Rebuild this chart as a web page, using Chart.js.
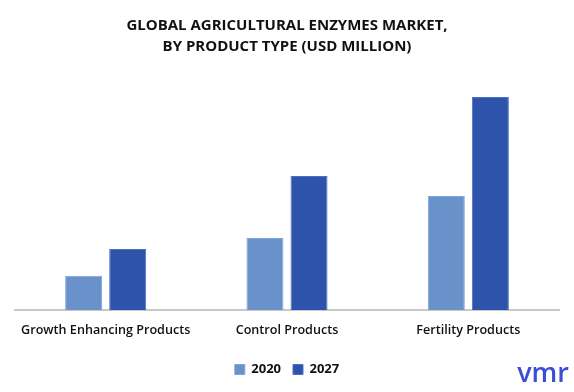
<!DOCTYPE html>
<html lang="en">
<head>
    <meta charset="UTF-8">
    <title>Global Agricultural Enzymes Market, By Product Type</title>
    <script src="https://cdn.jsdelivr.net/npm/chart.js"></script>
    <style>
        html, body {
            margin: 0;
            padding: 0;
            background: #ffffff;
        }
        .chart-box {
            position: relative;
            width: 574px;
            height: 392px;
        }
    </style>
</head>
<body>
    <div class="chart-box">
        <canvas id="marketChart"></canvas>
    </div>
    <script>
        // values (relative bar heights)
        const categories = ['Growth Enhancing Products', 'Control Products', 'Fertility Products'];
        const years = ['2020', '2027'];
        const values2020 = [160, 338, 535];
        const values2027 = [286, 629, 1000];
        const titleLines = ['GLOBAL AGRICULTURAL ENZYMES MARKET,', 'BY PRODUCT TYPE (USD MILLION)'];

        const fontFamily = "'Open Sans', 'Noto Sans', sans-serif";

        // small logo in the lower right corner
        const logoPlugin = {
            id: 'logo',
            afterDraw(chart) {
                const ctx = chart.ctx;
                ctx.save();
                ctx.font = "600 27px " + fontFamily;
                ctx.fillStyle = '#3a4fd6';
                ctx.textAlign = 'right';
                ctx.textBaseline = 'alphabetic';
                ctx.fillText('vmr', 569, 382);
                ctx.restore();
            }
        };

        const ctx = document.getElementById('marketChart').getContext('2d');
        const marketChart = new Chart(ctx, {
            type: 'bar',
            data: {
                labels: categories,
                datasets: [{
                    label: years[0],
                    data: values2020,
                    backgroundColor: '#6892c9',
                    borderColor: '#7ea5dc',
                    borderWidth: 1
                }, {
                    label: years[1],
                    data: values2027,
                    backgroundColor: '#2e53ab',
                    borderColor: '#4a6fc4',
                    borderWidth: 1
                }]
            },
            options: {
                responsive: true,
                maintainAspectRatio: false,
                animation: false,
                categoryPercentage: 0.486,
                barPercentage: 0.84,
                layout: {
                    padding: { left: 15, right: 15, top: 11, bottom: 6 }
                },
                plugins: {
                    title: {
                        display: true,
                        text: titleLines,
                        color: '#111111',
                        font: { family: fontFamily, size: 15, weight: 'bold', lineHeight: 1.4 },
                        padding: { top: 4, bottom: 13 }
                    },
                    legend: {
                        position: 'bottom',
                        labels: {
                            boxWidth: 10,
                            boxHeight: 10,
                            color: '#111111',
                            font: { family: fontFamily, size: 13, weight: 'bold' },
                            padding: 12
                        }
                    },
                    tooltip: { enabled: false }
                },
                scales: {
                    x: {
                        grid: { display: false, drawTicks: false },
                        border: { color: '#c8c8c8', width: 2 },
                        ticks: {
                            color: '#111111',
                            font: { family: fontFamily, size: 12.6, weight: '600' },
                            padding: 13
                        }
                    },
                    y: {
                        display: false,
                        min: 0,
                        max: 1127
                    }
                }
            },
            plugins: [logoPlugin]
        });
    </script>
</body>
</html>
